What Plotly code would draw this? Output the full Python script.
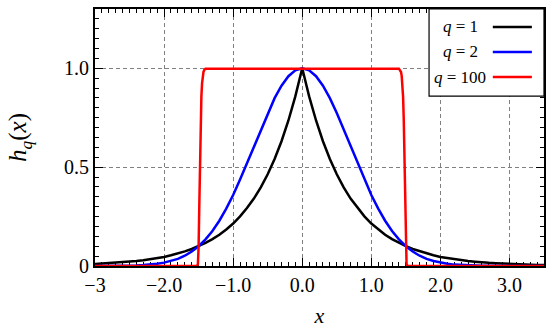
import plotly.graph_objects as go

# ---- data ----
x_grid = [-3.0, -2.9, -2.8, -2.7, -2.6, -2.5, -2.4, -2.3, -2.2, -2.1,
          -2.0, -1.9, -1.8, -1.7, -1.6, -1.5, -1.4, -1.3, -1.2, -1.1,
          -1.0, -0.9, -0.8, -0.7, -0.6, -0.5, -0.4, -0.3, -0.2, -0.1,
          0.0, 0.1, 0.2, 0.3, 0.4, 0.5, 0.6, 0.7, 0.8, 0.9,
          1.0, 1.1, 1.2, 1.3, 1.4, 1.5, 1.6, 1.7, 1.8, 1.9,
          2.0, 2.1, 2.2, 2.3, 2.4, 2.5, 2.6, 2.7, 2.8, 2.9,
          3.0, 3.1, 3.2, 3.3, 3.4, 3.5]

h_q1 = [0.010, 0.012, 0.014, 0.016, 0.018, 0.022, 0.025, 0.029, 0.034, 0.040,
        0.046, 0.054, 0.063, 0.074, 0.086, 0.100, 0.117, 0.136, 0.158, 0.185,
        0.215, 0.251, 0.293, 0.341, 0.398, 0.464, 0.541, 0.631, 0.736, 0.858,
        1.000, 0.858, 0.736, 0.631, 0.541, 0.464, 0.398, 0.341, 0.293, 0.251,
        0.215, 0.185, 0.158, 0.136, 0.117, 0.100, 0.086, 0.074, 0.063, 0.054,
        0.046, 0.040, 0.034, 0.029, 0.025, 0.022, 0.018, 0.016, 0.014, 0.012,
        0.010, 0.009, 0.007, 0.006, 0.005, 0.005]

h_q2 = [0.000, 0.000, 0.000, 0.001, 0.001, 0.002, 0.003, 0.005, 0.007, 0.011,
        0.017, 0.025, 0.036, 0.052, 0.073, 0.100, 0.135, 0.177, 0.229, 0.290,
        0.359, 0.437, 0.519, 0.606, 0.692, 0.774, 0.849, 0.912, 0.960, 0.990,
        1.000, 0.990, 0.960, 0.912, 0.849, 0.774, 0.692, 0.606, 0.519, 0.437,
        0.359, 0.290, 0.229, 0.177, 0.135, 0.100, 0.073, 0.052, 0.036, 0.025,
        0.017, 0.011, 0.007, 0.005, 0.003, 0.002, 0.001, 0.001, 0.000, 0.000,
        0.000, 0.000, 0.000, 0.000, 0.000, 0.000]

x_q100 = [-3.0, -1.52, -1.51, -1.50, -1.49, -1.48, -1.47, -1.46, -1.45, -1.44,
          -1.43, -1.42, -1.40, 1.40, 1.42, 1.43, 1.44, 1.45, 1.46, 1.47,
          1.48, 1.49, 1.50, 1.51, 1.52, 3.5]
h_q100 = [0.000, 0.000, 0.011, 0.100, 0.307, 0.545, 0.737, 0.857, 0.925, 0.962,
          0.981, 0.990, 0.998, 0.998, 0.990, 0.981, 0.962, 0.925, 0.857, 0.737,
          0.545, 0.307, 0.100, 0.011, 0.000, 0.000]

series_names = ["<i>q</i> = 1", "<i>q</i> = 2", "<i>q</i> = 100"]
series_colors = ["#000000", "#0000ff", "#ff0000"]

x_tickvals = [-3, -2, -1, 0, 1, 2, 3]
x_ticktext = ["\u22123", "\u22122.0", "\u22121.0", "0.0", "1.0", "2.0", "3.0"]
y_tickvals = [0, 0.5, 1.0]
y_ticktext = ["0", "0.5", "1.0"]

FONT = "'Liberation Serif', 'Times New Roman', serif"

fig = go.Figure()
for xs, ys, name, col in [(x_grid, h_q1, series_names[0], series_colors[0]),
                          (x_grid, h_q2, series_names[1], series_colors[1]),
                          (x_q100, h_q100, series_names[2], series_colors[2])]:
    fig.add_trace(go.Scatter(x=xs, y=ys, mode="lines", name=name,
                             line=dict(color=col, width=2.5), showlegend=False))

axis_common = dict(
    showline=True, linecolor="black", linewidth=2, mirror="allticks",
    ticks="inside", ticklen=8, tickwidth=1.3, tickcolor="black",
    showgrid=True, gridcolor="#808080", gridwidth=1, griddash="4px,3px",
    zeroline=False, layer="below traces", automargin=False,
    tickfont=dict(family=FONT, size=20, color="black"),
)

fig.update_xaxes(range=[-3, 3.5], tickvals=x_tickvals, ticktext=x_ticktext,
                 minor=dict(ticks="inside", ticklen=4, dtick=0.1, tick0=-3,
                            tickcolor="black", tickwidth=1.2, showgrid=False),
                 title=dict(text="<i>x</i>", font=dict(family=FONT, size=22, color="black"), standoff=14),
                 **axis_common)
fig.update_yaxes(range=[0, 1.3], tickvals=y_tickvals, ticktext=y_ticktext,
                 minor=dict(ticks="inside", ticklen=4, dtick=0.05, tick0=0,
                            tickcolor="black", tickwidth=1.2, showgrid=False),
                 title=dict(text="<i>h<sub>q</sub></i>(<i>x</i>)", font=dict(family=FONT, size=25, color="black"), standoff=30),
                 **axis_common)

# manual legend (text left, line sample right, as in reference)
shapes = [dict(type="rect", xref="paper", yref="paper", x0=0.744, x1=1.0, y0=0.661, y1=1.0,
               fillcolor="white", line=dict(color="black", width=1.2), layer="above")]
annotations = []
rows_y = [0.930, 0.833, 0.735]
for name, col, yy in zip(series_names, series_colors, rows_y):
    shapes.append(dict(type="line", xref="paper", yref="paper", x0=0.886, x1=0.973,
                       y0=yy, y1=yy, line=dict(color=col, width=2.5), layer="above"))
    annotations.append(dict(xref="paper", yref="paper", x=0.813, y=yy, text=name,
                            showarrow=False, xanchor="center", yanchor="middle",
                            font=dict(family=FONT, size=17, color="black")))

fig.update_layout(
    width=550, height=328,
    margin=dict(l=95, r=6, t=9, b=62),
    paper_bgcolor="white", plot_bgcolor="white",
    shapes=shapes, annotations=annotations,
    font=dict(family=FONT, color="black"),
    showlegend=False,
)

fig.write_html("out.html", config={"displayModeBar": False},
               post_script="document.body.style.margin='0px';document.body.style.overflow='hidden';")
